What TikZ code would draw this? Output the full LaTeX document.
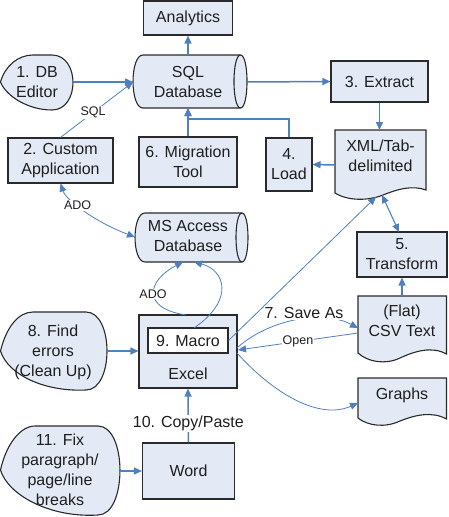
\documentclass[tikz,border=0pt]{standalone}
\usepackage{fontspec}
\setmainfont{Liberation Sans}
\usetikzlibrary{arrows.meta}
\definecolor{fillc}{HTML}{E4EAF5}
\definecolor{linec}{HTML}{4F7FBC}
\definecolor{edgec}{HTML}{2A2A2A}
\definecolor{txtc}{HTML}{1E1E1E}
\begin{document}
\begin{tikzpicture}[x=1pt,y=-1pt,
 box/.style={draw=edgec,line width=1.1pt,fill=fillc,inner sep=0pt,align=center,text=txtc,font=\fontsize{16}{20}\selectfont},
 txt/.style={inner sep=0pt,align=center,text=txtc,font=\fontsize{16}{20}\selectfont},
 shp/.style={draw=edgec,line width=1.1pt,fill=fillc},
 inner/.style={draw=edgec,line width=1.1pt},
 arr/.style={draw=linec,line width=1.5pt,-{Triangle[length=8pt,width=7pt]}},
 marr/.style={draw=linec,line width=1.1pt,{Triangle[length=8pt,width=7pt]}-{Triangle[length=8pt,width=7pt]}},
 tarr/.style={draw=linec,line width=0.8pt,-{Triangle[length=8pt,width=7pt]}},
 tdarr/.style={draw=linec,line width=0.8pt,{Triangle[length=8pt,width=7pt]}-{Triangle[length=8pt,width=7pt]}},
 lbl/.style={fill=white,inner sep=1pt,text=txtc,font=\fontsize{12.5}{14}\selectfont},
 lblb/.style={fill=white,inner sep=1pt,text=txtc,font=\fontsize{16}{20}\selectfont},
]
\useasboundingbox (0,0) rectangle (448,517);

% rectangles
\node[box,minimum width=89pt,minimum height=34pt] (ana) at (188,18) {Analytics};
\node[box,minimum width=105pt,minimum height=45pt] (cust) at (60.5,160.5) {2. Custom\\Application};
\node[box,minimum width=98pt,minimum height=50pt] (mig) at (188,162) {6. Migration\\Tool};
\node[box,minimum width=46pt,minimum height=53pt] (load) at (289,164.5) {4.\\Load};
\node[box,minimum width=97pt,minimum height=41pt] (ext) at (379.5,81.5) {3. Extract};
\node[box,minimum width=90pt,minimum height=45pt] (trans) at (402,254.5) {5.\\Transform};
\node[box,minimum width=98pt,minimum height=73pt] (ex) at (188,351.5) {};
\node[box,fill=white,minimum width=80pt,minimum height=25pt] (mac) at (188,340.5) {9. Macro};
\node[txt] (exl) at (188,374) {Excel};
\node[box,minimum width=92pt,minimum height=56pt] (word) at (188.5,471) {Word};

% SQL database cylinder
\path[shp] (143,55) -- (240.5,55) .. controls (249.2,55) and (249.2,108) .. (240.5,108) -- (143,108) .. controls (129.7,108) and (129.7,55) .. (143,55) -- cycle;
\draw[inner] (240.5,55) .. controls (231.8,55) and (231.8,108) .. (240.5,108);
\node[txt] (sql) at (188,82) {SQL\\Database};

% MS Access cylinder
\path[shp] (145,213) -- (242,213) .. controls (250,213) and (250,262) .. (242,262) -- (145,262) .. controls (131.7,262) and (131.7,213) .. (145,213) -- cycle;
\draw[inner] (242,213) .. controls (234,213) and (234,262) .. (242,262);
\node[txt] (acc) at (188,236) {MS Access\\Database};

% display shapes
\path[shp] (0.5,82) .. controls (5,66) and (18,55) .. (33,55) -- (52,55) .. controls (80,55) and (80,110) .. (52,110) .. controls (28,110) and (6,96) .. (0.5,82) -- cycle;
\node[txt] (dbe) at (37,82) {1. DB\\Editor};
\path[shp] (0.5,351) .. controls (6,328) and (18,312) .. (33,312) -- (86,312) .. controls (114,312) and (114,390) .. (86,390) .. controls (45,392) and (8,375) .. (0.5,351) -- cycle;
\node[txt] (fe) at (53,352) {8. Find\\errors\\(Clean Up)};
\path[shp] (0.5,470) .. controls (6,445) and (20,426) .. (35,426) -- (98,426) .. controls (127.3,426) and (127.3,515) .. (98,515) .. controls (50,518) and (8,495) .. (0.5,470) -- cycle;
\node[txt] (fx) at (60,470) {11. Fix\\paragraph/\\page/line\\breaks};

% documents
\path[shp] (335,130) -- (426,130) -- (426,190) .. controls (412,185) and (398,189) .. (383,195) .. controls (368,201) and (348,201) .. (335,193) -- cycle;
\node[txt] (xml) at (380.5,156) {XML/Tab-\\delimited};
\path[shp] (358,296) -- (446.5,296) -- (446.5,354) .. controls (432,346) and (415,351) .. (400,358) .. controls (385,365) and (368,362) .. (358,353) -- cycle;
\node[txt] (csv) at (402,321) {(Flat)\\CSV Text};
\path[shp] (358,378) -- (446.5,378) -- (446.5,419) .. controls (432,411) and (415,415) .. (400,421) .. controls (385,428) and (368,426) .. (358,418) -- cycle;
\node[txt] (gr) at (402,395) {Graphs};

% connection points
\coordinate (sqlT) at (188,55);
\coordinate (sqlB) at (188,108);
\coordinate (sqlL) at (133,82);
\coordinate (sqlR) at (247.5,82);
\coordinate (accL) at (135,237);
\coordinate (accB1) at (183,262);
\coordinate (accB2) at (194,262);
\coordinate (dbeR) at (73,82);
\coordinate (feR) at (107,351);
\coordinate (fxR) at (120,471);
\coordinate (xmlT) at (379.5,130);
\coordinate (xmlL) at (335,165);
\coordinate (xmlB) at (382,195);
\coordinate (xmlB2) at (376,197);
\coordinate (trT) at (399,232);
\coordinate (csvT) at (402,296);
\coordinate (csvL1) at (358,328);
\coordinate (csvL2) at (358,333);
\coordinate (grL) at (358,403);
\coordinate (exT1) at (186,315);
\coordinate (exR1) at (237,348);
\coordinate (exR2) at (238,350);
\coordinate (exR3) at (237,353);
\coordinate (macT) at (194,328);
\coordinate (jn) at (188,119);

% connectors
\draw[arr] (sqlT) -- (ana.south);
\draw[arr] (dbeR) -- (sqlL);
\draw[tarr] (cust.north) -- (sqlL) node[lbl,pos=0.45] {SQL};
\draw[tdarr] (cust.south) .. controls (66,200) and (95,222) .. (accL) node[lbl,pos=0.4] {ADO};
\draw[arr] (mig.north) -- (sqlB);
\draw[arr] (load.north) |- (jn) -- (sqlB);
\draw[arr] (sqlR) -- (ext.west);
\draw[arr] (ext.south) -- (xmlT);
\draw[arr] (xmlL) -- (load.east);
\draw[marr] (xmlB) -- (trT);
\draw[arr] (csvT) -- (trans.south);
\draw[tarr] (mac.east) -- (xmlB2);
\draw[tarr] (exR1) .. controls (265,322) and (320,308) .. (csvL1);
\node[lblb] (saveas) at (304,313) {7. Save As};
\draw[tarr] (csvL2) -- (exR2) node[lbl,pos=0.5] {Open};
\draw[tarr] (exR3) .. controls (275,395) and (320,420) .. (grL);
\draw[arr] (feR) -- (feR -| ex.west);
\draw[arr] (word.north) -- (ex.south) node[lblb,pos=0.36] {10. Copy/Paste};
\draw[arr] (fxR) -- (fxR -| word.west);
\draw[tarr] (exT1) .. controls (140,308) and (148,280) .. (accB1);
\node[lbl] (ado2) at (153,294) {ADO};
\draw[tarr] (macT) .. controls (235,300) and (225,270) .. (accB2);
\end{tikzpicture}
\end{document}
